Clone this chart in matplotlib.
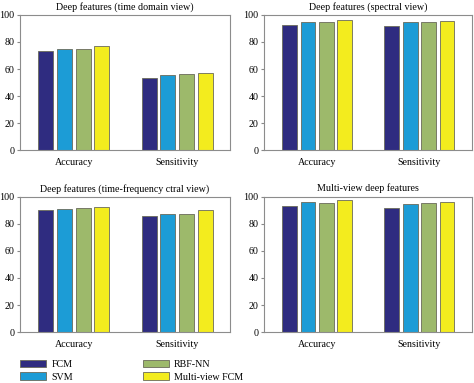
import matplotlib
matplotlib.use('Agg')
import matplotlib.pyplot as plt
import numpy as np

plt.rcParams['font.family'] = ['Liberation Serif', 'DejaVu Serif']

# data
categories = ['Accuracy', 'Sensitivity']
methods = ['FCM', 'SVM', 'RBF-NN', 'Multi-view FCM']
colors = ['#2f2c80', '#1c9cd6', '#9db96b', '#f3ec1e']

titles = ['Deep features (time domain view)',
          'Deep features (spectral view)',
          'Deep features (time-frequency ctral view)',
          'Multi-view deep features']

time_domain = [[73, 53.5], [74.5, 55.5], [74.5, 56], [77, 57]]
spectral = [[92.5, 91.5], [95, 94.5], [94.5, 95], [96.5, 95.5]]
time_freq = [[90, 85.5], [91, 87], [91.5, 87], [92.5, 90]]
multi_view = [[93, 92], [96, 95], [95.5, 95.5], [97.5, 96.5]]
panels = [time_domain, spectral, time_freq, multi_view]

fig = plt.figure(figsize=(4.74, 3.83), dpi=100)

positions = [
    [0.042, 0.608, 0.443, 0.353],
    [0.557, 0.608, 0.438, 0.353],
    [0.042, 0.133, 0.443, 0.353],
    [0.557, 0.133, 0.438, 0.353],
]

x = np.arange(len(categories))
width = 0.145
pitch = 0.18
handles = []
for pos, title, data in zip(positions, titles, panels):
    ax = fig.add_axes(pos)
    for i, vals in enumerate(data):
        b = ax.bar(x + pitch * (i - 1.5), vals, width, color=colors[i],
                   edgecolor='#6a6a5a', linewidth=0.6, label=methods[i])
        if len(handles) < 4:
            handles.append(b)
    ax.set_xlim(-0.52, 1.51)
    ax.set_ylim(0, 100)
    ax.set_yticks([0, 20, 40, 60, 80, 100])
    ax.set_xticks(x)
    ax.set_xticklabels(categories)
    ax.tick_params(axis='x', length=0, labelsize=7.2, pad=6)
    ax.tick_params(axis='y', length=2.5, labelsize=7.2, pad=1.5, color='#888888')
    for s in ax.spines.values():
        s.set_color('#8c8c8c')
        s.set_linewidth(0.8)
    ax.set_title(title, fontsize=7.2, pad=4)

fig.legend(handles, methods, ncol=2, loc='lower left',
           bbox_to_anchor=(0.024, -0.02), frameon=False, fontsize=7.2,
           handlelength=2.6, handleheight=0.8, columnspacing=7.0,
           labelspacing=0.35, handletextpad=0.5)

fig.savefig('out.png', dpi=100)
